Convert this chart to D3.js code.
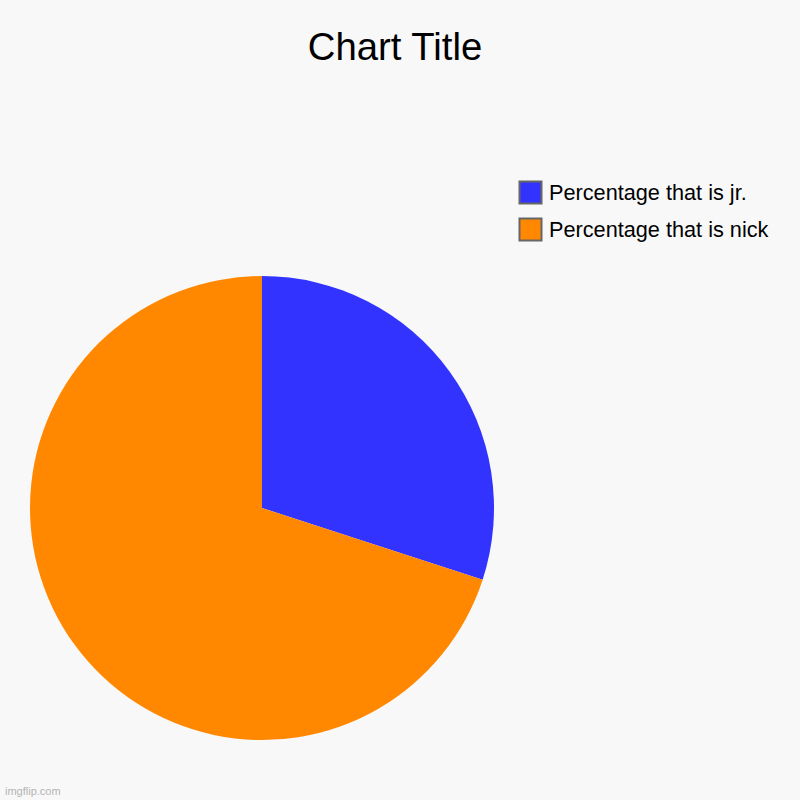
<!DOCTYPE html>
<html lang="en">
<head>
<meta charset="utf-8">
<title>Chart Title</title>
<script src="https://cdn.jsdelivr.net/npm/d3@7"></script>
<style>
  body { margin: 0; background: #f8f8f8; }
  svg text { font-family: "Liberation Sans", Arial, sans-serif; }
</style>
</head>
<body>
<script>
// data
var labels = ["Percentage that is jr.", "Percentage that is nick"];
var values = [30, 70];
var colors = ["#3333ff", "#ff8800"];

var w = 800, h = 800;
var cx = 262, cy = 508, radius = 232;

var svg = d3.select("body").append("svg")
  .attr("width", w)
  .attr("height", h);

svg.append("rect")
  .attr("width", w)
  .attr("height", h)
  .attr("fill", "#f8f8f8");

// title
svg.append("text")
  .attr("x", 395)
  .attr("y", 60)
  .attr("text-anchor", "middle")
  .attr("font-size", "38.3px")
  .attr("fill", "#000")
  .text("Chart Title");

// pie
var pie = d3.pie().sort(null).value(function(d) { return d; });
var arc = d3.arc().innerRadius(0).outerRadius(radius);

var g = svg.append("g")
  .attr("transform", "translate(" + cx + "," + cy + ")");

g.selectAll("path")
  .data(pie(values))
  .enter()
  .append("path")
  .attr("d", arc)
  .attr("fill", function(d, i) { return colors[i]; });

// legend
var legend = svg.append("g")
  .attr("transform", "translate(519,181)");

var item = legend.selectAll("g")
  .data(labels)
  .enter()
  .append("g")
  .attr("transform", function(d, i) { return "translate(0," + (i * 37) + ")"; });

item.append("rect")
  .attr("x", 0.5)
  .attr("y", 0.5)
  .attr("width", 22)
  .attr("height", 22)
  .attr("fill", function(d, i) { return colors[i]; })
  .attr("stroke", "#666")
  .attr("stroke-width", 2);

item.append("text")
  .attr("x", 30)
  .attr("y", 19)
  .attr("font-size", "21.7px")
  .attr("fill", "#000")
  .text(function(d) { return d; });

// watermark
svg.append("text")
  .attr("x", 5)
  .attr("y", 795)
  .attr("font-size", "11px")
  .attr("fill", "#b4b4b4")
  .text("imgflip.com");
</script>
</body>
</html>
